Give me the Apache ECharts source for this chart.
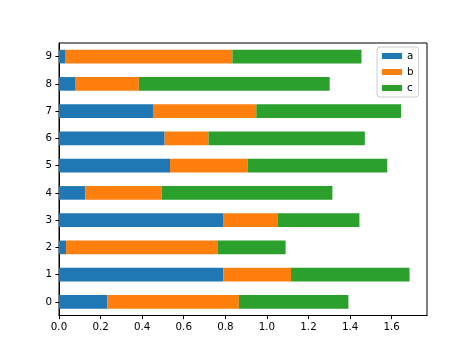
<!DOCTYPE html>
<html>
<head>
<meta charset="utf-8">
<script src="https://cdn.jsdelivr.net/npm/echarts@6/dist/echarts.min.js"></script>
<style>html,body{margin:0;padding:0;background:#fff}#c{width:474px;height:355px}</style>
</head>
<body>
<div id="c"></div>
<script>
const categories = ['0','1','2','3','4','5','6','7','8','9'];
const seriesA = [0.232, 0.791, 0.034, 0.789, 0.127, 0.534, 0.508, 0.452, 0.080, 0.032];
const seriesB = [0.633, 0.325, 0.728, 0.264, 0.367, 0.373, 0.211, 0.497, 0.304, 0.802];
const seriesC = [0.527, 0.570, 0.328, 0.392, 0.821, 0.672, 0.752, 0.696, 0.918, 0.621];
const xTicks = [0, 0.2, 0.4, 0.6, 0.8, 1.0, 1.2, 1.4, 1.6];
const xMax = 1.77;

const font = 'DejaVu Sans';
const chart = echarts.init(document.getElementById('c'), null, {renderer: 'canvas'});
function bar(name, data, color) {
  return {
    name: name, type: 'bar', stack: 'total', data: data, barWidth: '50%',
    itemStyle: {color: color}, emphasis: {disabled: true}
  };
}
chart.setOption({
  animation: false,
  grid: {left: 59, right: 47, top: 43, bottom: 39.5, show: true, borderColor: '#000', borderWidth: 1, containLabel: false, outerBoundsMode: 'none'},
  legend: {
    orient: 'vertical', left: 377, top: 47,
    padding: [3, 5, 3, 5],
    itemWidth: 20, itemHeight: 6, itemGap: 4, itemTextGap: 7,
    borderColor: '#cccccc', borderWidth: 1, borderRadius: 3,
    icon: 'rect',
    textStyle: {fontFamily: font, fontSize: 10.3, color: '#000', lineHeight: 12},
    data: ['a', 'b', 'c']
  },
  xAxis: {
    type: 'value', min: 0, max: xMax,
    splitLine: {show: false},
    axisLine: {show: true, lineStyle: {color: '#000'}},
    axisTick: {show: true, length: 3.6, lineStyle: {color: '#000'}, customValues: xTicks},
    axisLabel: {fontFamily: font, fontSize: 10.3, color: '#000', margin: 7, customValues: xTicks,
      formatter: v => v.toFixed(1)}
  },
  yAxis: {
    type: 'category', data: categories,
    axisLine: {show: true, lineStyle: {color: '#000'}},
    axisTick: {show: true, alignWithLabel: true, length: 3.6, lineStyle: {color: '#000'}},
    axisLabel: {fontFamily: font, fontSize: 10.3, color: '#000', margin: 7}
  },
  series: [
    bar('a', seriesA, '#1f77b4'),
    bar('b', seriesB, '#ff7f0e'),
    bar('c', seriesC, '#2ca02c')
  ]
});
</script>
</body>
</html>
